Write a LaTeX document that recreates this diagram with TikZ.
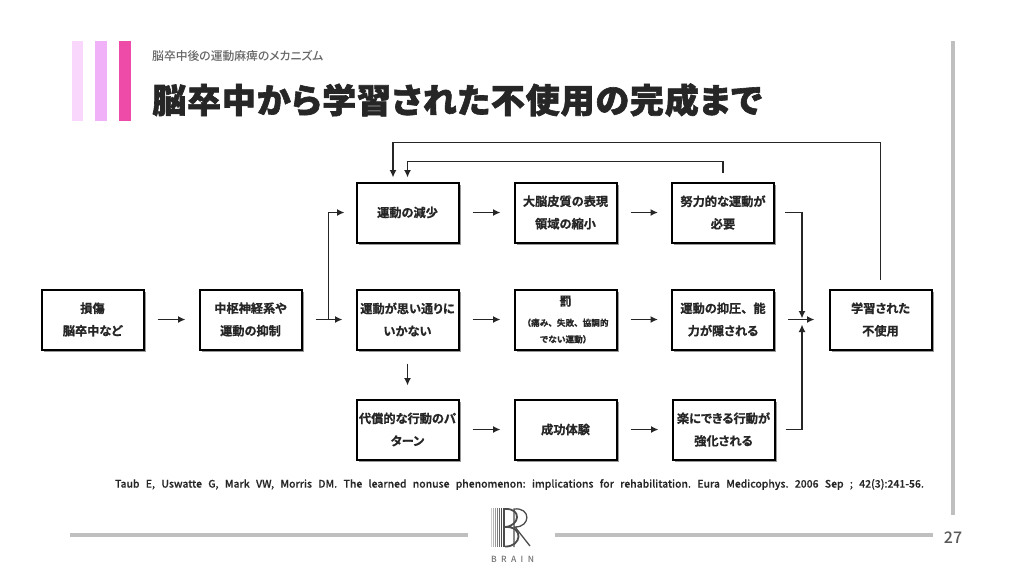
\documentclass[tikz,border=0pt]{standalone}
\usepackage{fontspec}
\usetikzlibrary{shadows,arrows.meta}
\setmainfont{Noto Sans CJK JP}
\newfontfamily\titlefont[RawFeature=+palt,LetterSpace=2.6,FakeBold=1.8]{Noto Sans CJK JP Black}
\newfontfamily\boxfont[RawFeature=+palt,FakeBold=0.8]{Noto Sans CJK JP Bold}
\newfontfamily\plainbox[FakeBold=0.8]{Noto Sans CJK JP Bold}
\newfontfamily\notefont[RawFeature=+palt]{Noto Sans CJK JP Medium}
\newfontfamily\citefont[FakeBold=0.25]{Noto Sans CJK JP Medium}
\newcommand{\smalltxt}{\plainbox\fontsize{8.6}{15.5}\selectfont}
\definecolor{inkgrey}{HTML}{262626}
\definecolor{rulegrey}{HTML}{BFBFBF}
\tikzset{
  stepbox/.style={draw=black,line width=2pt,fill=white,minimum width=102pt,minimum height=60pt,
    inner sep=0pt,align=center,text=inkgrey,font=\boxfont\fontsize{12.2}{22.5}\selectfont,
    drop shadow={shadow xshift=2pt,shadow yshift=-2pt,opacity=0.4,fill=black}},
  link/.style={draw=inkgrey,line width=1.5pt,-{Latex[length=7.5pt,width=7pt]}},
  gap/.style={shorten <=13pt,shorten >=13pt},
  rulebar/.style={fill=rulegrey,draw=none}
}
\begin{document}
\begin{tikzpicture}[x=1pt,y=1pt]
\useasboundingbox (0,0) rectangle (1024,-576);
% heading
\fill [fill=white] (0,0) rectangle (1024,-576);
\fill [color={rgb,255:red,249;green,214;blue,252}] (72,-41) rectangle (83,-121);
\fill [color={rgb,255:red,241;green,177;blue,249}] (95,-41) rectangle (107,-121);
\fill [color={rgb,255:red,238;green,75;blue,168}] (119,-41) rectangle (131,-121);
\node (subtitle) [anchor=west,inner sep=0pt,text=black!60,font=\notefont\fontsize{11.8}{14}\selectfont] at (152,-56) {脳卒中後の運動麻痺のメカニズム};
\node (title) [anchor=west,inner sep=0pt,text=inkgrey,font=\titlefont\fontsize{34}{40}\selectfont] at (152,-100) {脳卒中から学習された不使用の完成まで};
% frame
\fill [rulebar] (951,-41) rectangle (955,-515);
\fill [rulebar] (70,-533) rectangle (468,-537);
\fill [rulebar] (555,-533) rectangle (933,-537);
\node (pageno) [inner sep=0pt,text=black!65,font=\notefont\fontsize{16}{18}\selectfont] at (953,-538) {27};
% boxes
\node (injury) [stepbox] at (92.5,-319.5) {損傷\\脳卒中など};
\node (central) [stepbox] at (250.5,-319.5) {中枢神経系や\\運動の抑制};
\node (reduce) [stepbox] at (407.5,-212.5) {運動の減少};
\node (cortex) [stepbox] at (565.5,-212.5) {大脳皮質の表現\\領域の縮小};
\node (effort) [stepbox] at (723,-212.5) {努力的な運動が\\必要};
\node (fail) [stepbox] at (407.5,-319.5) {運動が思い通りに\\いかない};
\node (punish) [stepbox] at (565.5,-319.5) {罰\\[-2pt]\smalltxt （痛み、失敗、協調的\\[-6pt]\smalltxt でない運動）};
\node (suppress) [stepbox] at (723,-319.5) {運動の抑圧{\plainbox 、}能\\力が隠される};
\node (unused) [stepbox] at (880.5,-319.5) {学習された\\不使用};
\node (pattern) [stepbox] at (407.5,-429.5) {代償的な行動のパ\\ターン};
\node (success) [stepbox] at (565.5,-429.5) {成功体験};
\node (easy) [stepbox] at (723.5,-429.5) {楽にできる行動が\\強化される};
% connectors
\draw [link,gap] (injury) -- (central);
\draw [link,gap] (central) -- (fail);
\draw [link,gap] (fail) -- (punish);
\draw [link,gap] (punish) -- (suppress);
\draw [link,gap] (reduce) -- (cortex);
\draw [link,gap] (cortex) -- (effort);
\draw [link,gap] (pattern) -- (success);
\draw [link,gap] (success) -- (easy);
\draw [link,gap] (fail) -- (pattern);
\draw [link,shorten <=13pt,shorten >=14pt] (suppress) -- (unused);
\coordinate (upfork) at (328.5,-319.5);
\coordinate (join) at (802,-319.5);
\coordinate (toplong) at (393,-142.5);
\coordinate (topshort) at (407.5,-161.5);
\draw [link,shorten >=11pt] (upfork) |- (reduce);
\draw [link,shorten <=10pt,shorten >=1pt] (effort.east) -| (join);
\draw [link,shorten <=10pt,shorten >=5pt] (easy.east) -| (join);
\draw [link,shorten <=9pt,shorten >=4pt] (unused.north) |- (toplong) -- (toplong |- reduce.north);
\draw [link,shorten <=9pt,shorten >=4pt] (effort.north) |- (topshort) -- (reduce.north);
% reference
\node (citation) [inner sep=0pt,text=inkgrey,font=\citefont\fontsize{10.4}{12}\selectfont] at (519.5,-484.5) {\frenchspacing\makebox[809pt][s]{Taub E, Uswatte G, Mark VW, Morris DM. The learned nonuse phenomenon: implications for rehabilitation. Eura Medicophys. 2006 Sep ; 42(3):241-56.}};
% logo
\foreach \x/\g in {490.5/20,492.5/30,494.5/40,496.5/50,498.5/60,500.6/70}
  \fill [black!\g] (\x,-508) rectangle ++(1.2,-39);
\fill [black!70] (503,-508) rectangle ++(2,-39);
\draw [black!70,line width=1.8pt] (505,-509) .. controls (522,-508) and (520,-526) .. (505,-527) .. controls (524,-526) and (522,-547) .. (505,-546.5);
\draw [black!70,line width=1.3pt] (514,-547) -- (514,-509) .. controls (531,-507) and (531,-527) .. (515,-527) -- (530,-546);
\node (brand) [inner sep=0pt,text=black!55,font=\notefont\fontsize{8.5}{10}\selectfont] at (512.5,-559) {\makebox[43pt][s]{B\hfil R\hfil A\hfil I\hfil N}};
\end{tikzpicture}
\end{document}
